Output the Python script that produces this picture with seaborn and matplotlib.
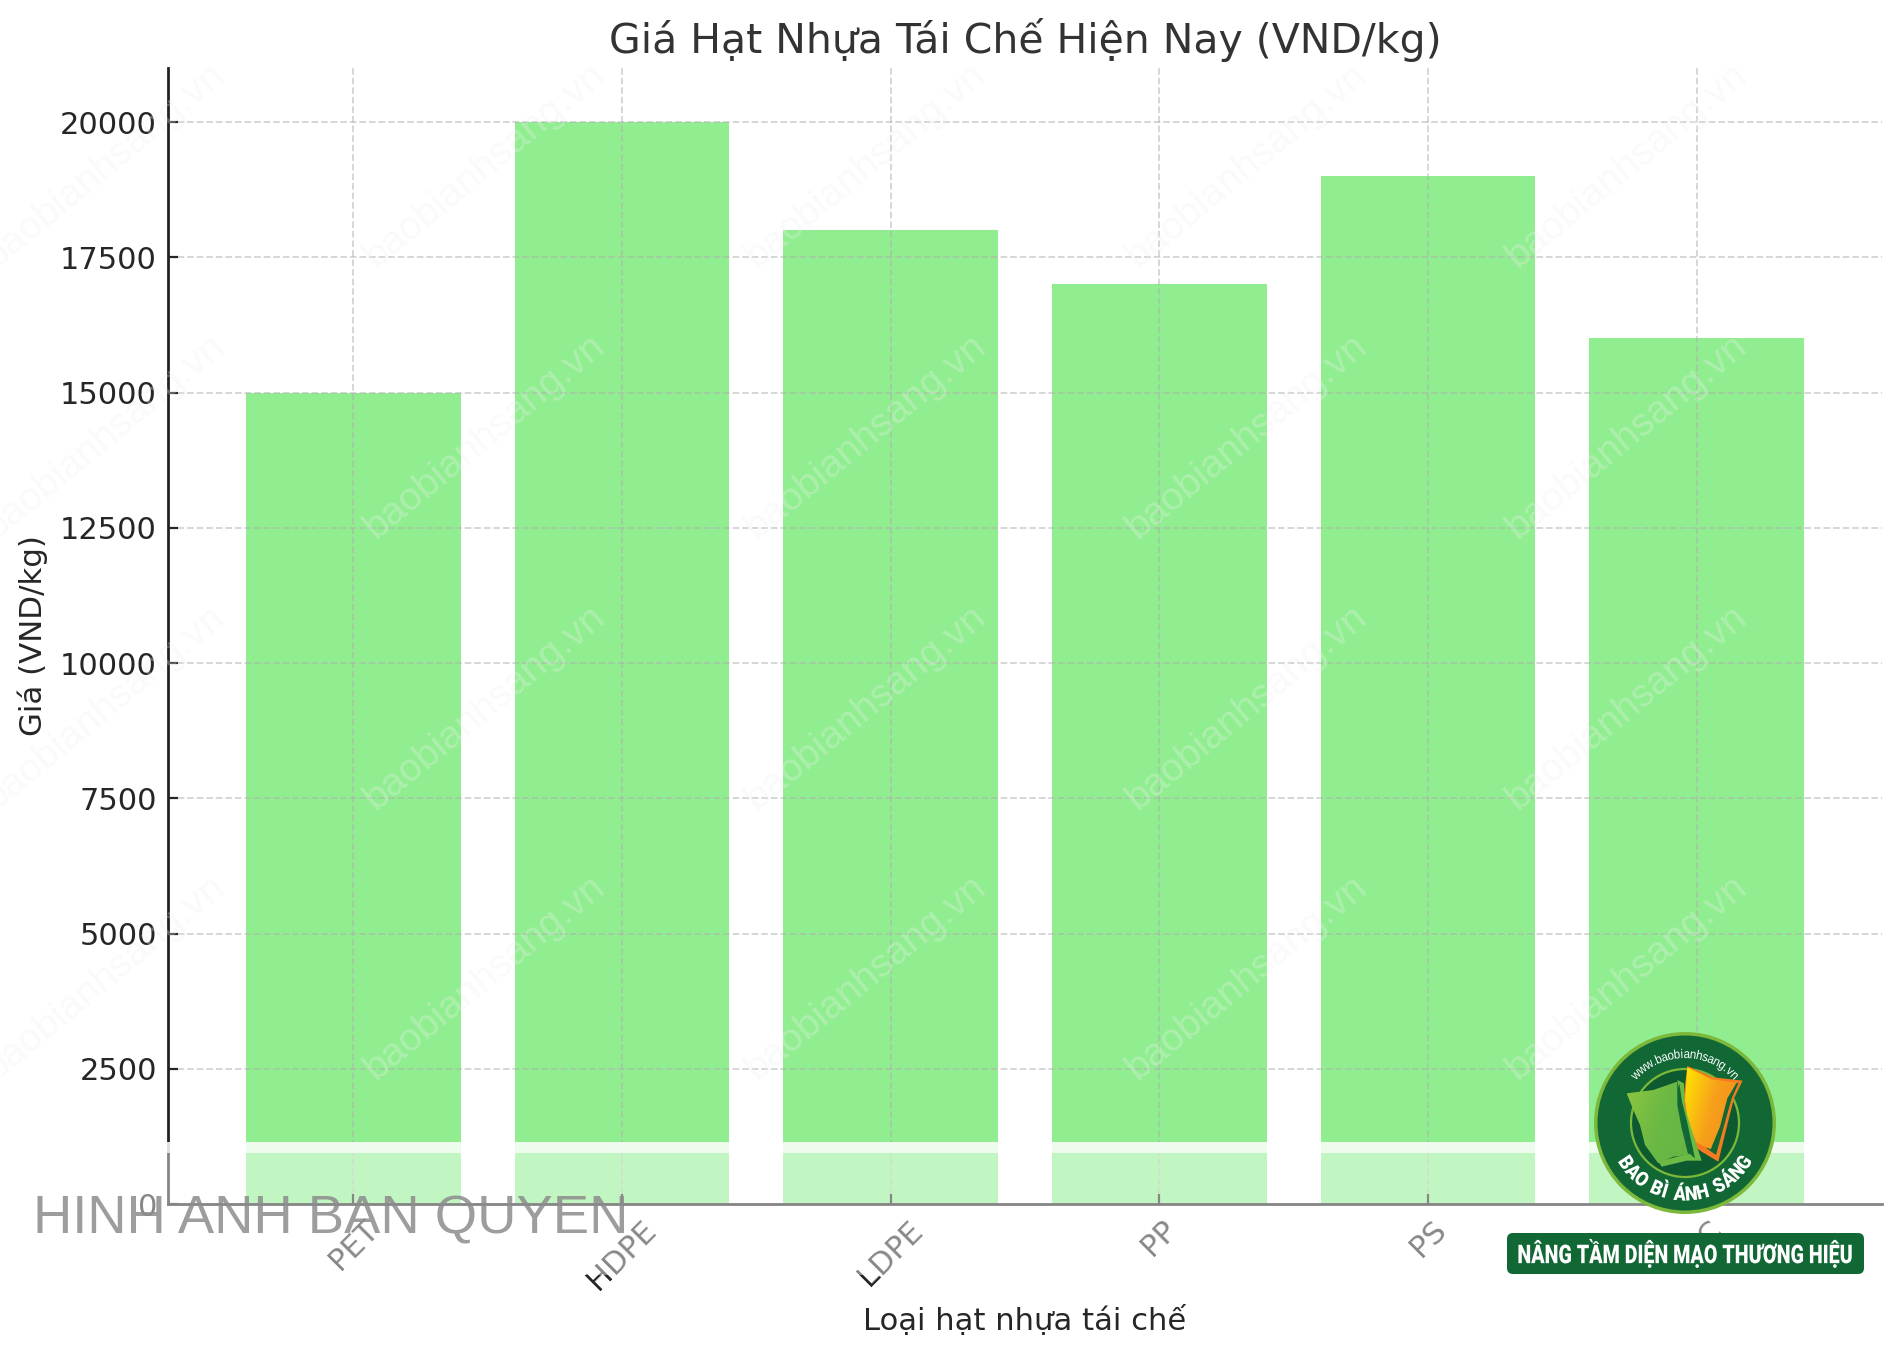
import numpy as np
import pandas as pd
import seaborn as sns
import matplotlib
matplotlib.use("Agg")
import matplotlib.pyplot as plt
from matplotlib.colors import LinearSegmentedColormap
from matplotlib.patches import Circle, FancyBboxPatch, Polygon, Rectangle
from matplotlib.patheffects import AbstractPathEffect
from matplotlib.transforms import Affine2D

# Price of recycled plastic pellets
plastic_types = ["PET", "HDPE", "LDPE", "PP", "PS", "PVC"]
prices = [15000, 20000, 18000, 17000, 19000, 16000]

title_text = "Giá Hạt Nhựa Tái Chế Hiện Nay (VND/kg)"
x_label = "Loại hạt nhựa tái chế"
y_label = "Giá (VND/kg)"
y_ticks = [0, 2500, 5000, 7500, 10000, 12500, 15000, 17500, 20000]

site_mark = "baobianhsang.vn"
copyright_line = "HINH ANH BAN QUYEN"
brand_name = "BAO BÌ ÁNH SÁNG"
brand_site = "www.baobianhsang.vn"
slogan = "NÂNG TẦM DIỆN MẠO THƯƠNG HIỆU"

W, H = 1900, 1355
DPI = 200


class Squeeze(AbstractPathEffect):
    """Condense a text horizontally about its own centre."""

    def __init__(self, factor):
        super().__init__()
        self.factor = factor

    def draw_path(self, renderer, gc, tpath, affine, rgbFace=None):
        box = tpath.get_extents()
        mid = (box.x0 + box.x1) / 2
        local = Affine2D().translate(-mid, 0).scale(self.factor, 1).translate(mid, 0)
        renderer.draw_path(gc, tpath, local + affine, rgbFace)


sns.set_theme(style="white")
plt.rcParams["font.family"] = ["DejaVu Sans"]

fig = plt.figure(figsize=(W / DPI, H / DPI), dpi=DPI, facecolor="white")
ax = fig.add_axes([168 / W, 1 - 1204 / H, (1882 - 168) / W, (1204 - 68) / H])

frame = pd.DataFrame({"type": plastic_types, "price": prices})
sns.barplot(data=frame, x="type", y="price", color="#90EE90", saturation=1,
            width=0.8, linewidth=0, edgecolor="none", ax=ax, zorder=2)

ax.set_xlim(-0.69, 5.69)
ax.set_ylim(0, 21000)
ax.set_yticks(y_ticks)
ax.set_title(title_text, fontsize=14.75, color="#333333", pad=5.5)
ax.set_xlabel(x_label, fontsize=11.05, color="#262626", labelpad=3.7)
ax.set_ylabel(y_label, fontsize=11.1, color="#262626", labelpad=4.4)
ax.tick_params(axis="both", direction="in", length=3.5, width=0.8, color="#262626",
               labelsize=11, labelcolor="#262626", left=True, bottom=True, pad=4)
ax.tick_params(axis="x", labelrotation=45)
ax.grid(True, linestyle="--", linewidth=0.65, color="#b0b0b0", alpha=0.55, zorder=3)
ax.set_axisbelow(False)
sns.despine(ax=ax)
for side in ("left", "bottom"):
    ax.spines[side].set_linewidth(1.0)
    ax.spines[side].set_color("#222222")
    ax.spines[side].set_zorder(5)

# Pixel-addressed layer for the stamped elements on top of the chart
top = fig.add_axes([0, 0, 1, 1], facecolor="none", zorder=10)
top.axis("off")

# Repeated site mark
for cy in (166, 437, 708, 978):
    for cx in (105, 485, 866, 1247, 1627):
        top.text(cx, cy, site_mark, rotation=39.5, rotation_mode="anchor",
                 ha="center", va="center", fontsize=14.2, color="#f0f0f0",
                 alpha=0.30, family="Liberation Sans", clip_on=True)

# Washed-out strip along the lower edge of the plot
top.add_patch(Rectangle((0, 1142), W, 11, color="white", alpha=0.85, lw=0))
top.add_patch(Rectangle((0, 1153), W, 122, color="white", alpha=0.45, lw=0))
top.text(33, 1234, copyright_line, fontsize=19.6, color="#8c8c8c", alpha=0.85,
         family="Liberation Sans", ha="left", va="baseline")

# Brand badge
BX, BY = 1685, 1123
GREEN = "#116835"
top.add_patch(Circle((BX, BY), 91, fc="#7cb83a", ec="none", zorder=20))
top.add_patch(Circle((BX, BY), 87.5, fc=GREEN, ec="none", zorder=21))
top.add_patch(Circle((BX, BY), 54, fc="#0e5a30", ec="#7cb83a", lw=0.8, zorder=22))


def badge_pts(coords):
    return np.array(coords, float) / 3 + [1590, 1030]


def gradient_fill(points, colours, zorder):
    """Fill a polygon with a diagonal colour ramp."""
    shape = Polygon(points, closed=True, fc="none", ec="none", zorder=zorder)
    top.add_patch(shape)
    xs, ys = points[:, 0], points[:, 1]
    ramp = np.add.outer(np.linspace(0, 0.3, 48), np.linspace(0, 0.7, 48))
    cmap = LinearSegmentedColormap.from_list("ramp", colours)
    img = top.imshow(ramp, extent=(xs.min(), xs.max(), ys.max(), ys.min()),
                     cmap=cmap, aspect="auto", zorder=zorder)
    img.set_clip_path(shape)


# Orange sack seen behind the green one
top.add_patch(Polygon(badge_pts([(292, 108), (370, 142), (458, 152), (432, 205), (408, 300),
                                 (385, 395), (335, 365), (300, 340), (280, 210)]),
                      closed=True, fc="#f47b20", ec="none", zorder=23))
top.add_patch(Polygon(badge_pts([(395, 170), (446, 158), (425, 205), (400, 295), (378, 375),
                                 (350, 355), (385, 285), (405, 215)]),
                      closed=True, fc=GREEN, ec="none", zorder=23.5))
gradient_fill(badge_pts([(292, 112), (365, 148), (440, 158), (412, 205), (390, 290),
                         (362, 358), (320, 338), (295, 280), (285, 210)]),
              ["#ffe600", "#f7a11b", "#f08a1d"], 24)

# Green sack in front, with a dark crease along its right side
top.add_patch(Polygon(badge_pts([(262, 150), (282, 160), (284, 230), (302, 290), (318, 340),
                                 (335, 392), (290, 392), (215, 410), (205, 395), (300, 370)]),
                      closed=True, fc="#6dbb45", ec="none", zorder=25))
top.add_patch(Polygon(badge_pts([(268, 160), (276, 215), (290, 270), (315, 385), (295, 368),
                                 (272, 300), (258, 215)]),
                      closed=True, fc=GREEN, ec="none", zorder=25.5))
gradient_fill(badge_pts([(110, 190), (190, 180), (262, 155), (262, 225), (275, 295),
                         (295, 375), (250, 380), (205, 400), (165, 345), (150, 285),
                         (130, 240)]),
              ["#8cc63f", "#6cb944", "#63b546"], 26)


def arc_text(string, radius, centre_deg, unit_deg, size, squeeze, widths, upper, **kw):
    """Set one glyph at a time around the badge centre, spaced by glyph width."""
    adv = np.array([widths.get(ch, 1.0) for ch in string])
    pos = np.cumsum(adv) - adv / 2 - adv.sum() / 2
    for ch, off in zip(string, pos):
        if upper:
            a = np.deg2rad(centre_deg - off * unit_deg)
            rot = np.rad2deg(a) - 90
        else:
            a = np.deg2rad(centre_deg + off * unit_deg)
            rot = np.rad2deg(a) + 90
        t = top.text(BX + radius * np.cos(a), BY - radius * np.sin(a), ch, rotation=rot,
                     rotation_mode="anchor", ha="center", va="center", fontsize=size,
                     color="white", zorder=30, **kw)
        t.set_path_effects([Squeeze(squeeze)])


arc_text(brand_site, 68, 90, 5.3, 4.6, 0.9,
         {"i": 0.55, ".": 0.55, "w": 1.3, "s": 0.9}, True,
         family="Liberation Sans")
arc_text(brand_name, 72, 270, 9.2, 7.2, 0.9,
         {" ": 0.55, "Ì": 0.55}, False,
         family="Roboto", fontweight="black")

# Slogan banner
top.add_patch(FancyBboxPatch((1510, 1236), 351, 35, boxstyle="round,pad=3,rounding_size=6",
                             fc=GREEN, ec="none", zorder=20))
banner_text = top.text(1685.5, 1254, slogan, fontsize=9.3, fontweight="black", family="Roboto",
                       color="white", ha="center", va="center", zorder=30)
banner_text.set_path_effects([Squeeze(0.762)])

top.set_xlim(0, W)
top.set_ylim(H, 0)

fig.savefig("out.png", dpi=DPI)
